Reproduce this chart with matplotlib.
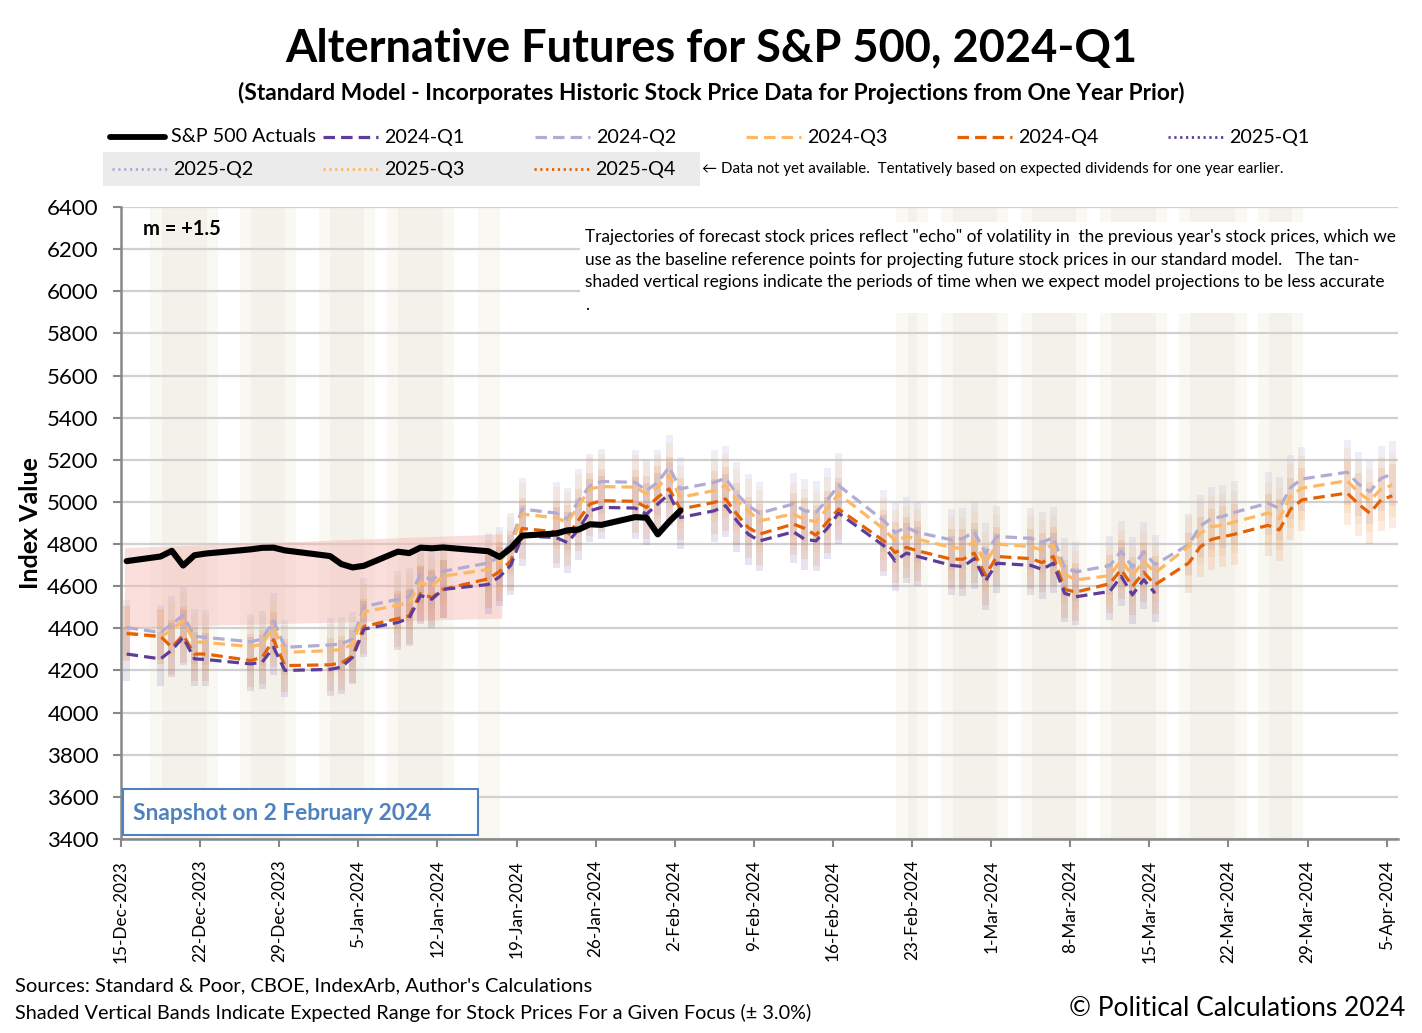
import numpy as np
import pandas as pd
import matplotlib
matplotlib.use('Agg')
from matplotlib import pyplot as plt
from matplotlib.lines import Line2D
from matplotlib.patches import Rectangle

plt.rcParams['font.family'] = ['Lato', 'DejaVu Sans']

# trading days covered by the chart
holidays = ['2023-12-25', '2024-01-01', '2024-01-15', '2024-02-19', '2024-03-29']
days = pd.bdate_range('2023-12-15', '2024-04-05')
days = days[~days.isin(pd.to_datetime(holidays))]

# S&P 500 closing values (15-Dec-2023 .. 2-Feb-2024)
sp500 = [4719, 4741, 4768, 4698, 4747, 4755, 4775, 4782, 4783, 4770,
         4743, 4705, 4689, 4697, 4764, 4757, 4783, 4780, 4784, 4766,
         4739, 4781, 4840, 4850, 4865, 4869, 4894, 4891, 4928, 4925,
         4846, 4906, 4959]

# projections by futures quarter
q1_2024 = [4278, 4255, 4297, 4357, 4255, 4252, 4231, 4240, 4310, 4200,
           4205, 4216, 4263, 4396, 4428, 4448, 4556, 4538, 4585, 4608,
           4645, 4700, 4839, 4831, 4807, 4870, 4958, 4974, 4971, 4942,
           4990, 5038, 4926, 4958, 4982, 4910, 4847, 4815, 4858, 4823,
           4815, 4875, 4947, 4792, 4720, 4757, 4741, 4699, 4693, 4731,
           4625, 4709, 4699, 4680, 4709, 4566, 4550, 4575, 4647, 4559,
           4631, 4567]
q2_2024 = [4404, 4380, 4420, 4462, 4362, 4357, 4336, 4350, 4436, 4310,
           4321, 4326, 4349, 4503, 4538, 4550, 4655, 4629, 4671, 4710,
           4740, 4805, 4966, 4947, 4918, 5006, 5077, 5097, 5093, 5054,
           5093, 5165, 5062, 5093, 5112, 5038, 4982, 4947, 4990, 4958,
           4951, 5010, 5078, 4911, 4855, 4879, 4855, 4820, 4827, 4858,
           4757, 4836, 4827, 4808, 4831, 4688, 4668, 4698, 4766, 4691,
           4762, 4703, 4798, 4886, 4921, 4931, 4950, 4994, 4969, 5069,
           5109, 5141, 5085, 5049, 5112, 5133]
q3_2024 = [4380, 4357, 4395, 4436, 4336, 4333, 4313, 4325, 4404, 4286,
           4294, 4300, 4326, 4478, 4510, 4522, 4616, 4600, 4648, 4679,
           4715, 4785, 4942, 4925, 4902, 4982, 5062, 5073, 5070, 5038,
           5070, 5125, 5022, 5054, 5077, 5006, 4958, 4910, 4943, 4916,
           4906, 4970, 5038, 4871, 4815, 4836, 4823, 4784, 4779, 4811,
           4709, 4800, 4788, 4772, 4796, 4657, 4630, 4650, 4723, 4650,
           4719, 4663, 4790, 4851, 4883, 4889, 4905, 4947, 4921, 5029,
           5065, 5101, 5045, 5006, 5061, 5080]
q4_2024 = [4375, 4362, 4310, 4368, 4278, 4278, 4247, 4263, 4346, 4223,
           4227, 4235, 4270, 4409, 4446, 4459, 4566, 4546, 4585, 4635,
           4670, 4720, 4874, 4858, 4839, 4915, 4990, 5006, 5003, 4974,
           5022, 5062, 4966, 4998, 5014, 4942, 4879, 4847, 4895, 4874,
           4842, 4905, 4966, 4815, 4760, 4784, 4768, 4728, 4728, 4757,
           4652, 4741, 4731, 4712, 4741, 4585, 4572, 4612, 4679, 4599,
           4666, 4607, 4711, 4787, 4822, 4835, 4846, 4889, 4867, 4966,
           5010, 5042, 4990, 4947, 5010, 5029]

# pink range (day offsets from 15-Dec-2023) and its low/high values
pink_days = [0.3, 33.7]
pink_lo = [4405, 4448]
pink_hi = [4783, 4848]

# tan "echo" volatility periods, day offsets from 15-Dec-2023
tan_bands = [(2.6, 8.6), (10.5, 15.5), (17.5, 22.5), (23.5, 29.5), (31.6, 33.5),
             (68.6, 71.4), (72.6, 78.5), (79.6, 85.5), (86.6, 92.6),
             (93.6, 99.6), (100.6, 104.6)]

band_pct = 0.03
c_q1, c_q2, c_q3, c_q4 = '#5e3c99', '#b2abd2', '#fdb863', '#e66101'

start = pd.Timestamp('2023-12-15')
half = pd.Timedelta(hours=12)
x_all = days + half


def px(x, y):
    return x / 1422, 1 - y / 1033


fig = plt.figure(figsize=(14.22, 10.33), dpi=100)
ax = fig.add_axes([121 / 1422, 1 - 839 / 1033, 1277 / 1422, 632 / 1033])

# background tan bands
for a, b in tan_bands:
    ax.axvspan(start + pd.Timedelta(days=a), start + pd.Timedelta(days=b),
               color='#f9f8f3', lw=0, zorder=0.1)
    if b - a > 2.5:
        ax.axvspan(start + pd.Timedelta(days=a + 1), start + pd.Timedelta(days=b - 1),
                   color='#f4f1ea', lw=0, zorder=0.15)

# pink range
pd_x = [start + pd.Timedelta(days=d) for d in pink_days]
ax.fill_between(pd_x, pink_lo, pink_hi, color='#f5b5ae', alpha=0.42, lw=0, zorder=1)

# expected range bars (+/- 3%)
series = [(q1_2024, c_q1, 0.14), (q2_2024, c_q2, 0.2),
          (q3_2024, c_q3, 0.14), (q4_2024, c_q4, 0.12)]
for vals, c, a in series:
    v = np.array(vals, dtype=float)
    xs = x_all[:len(v)]
    ax.bar(xs, 2 * band_pct * v, bottom=(1 - band_pct) * v, width=0.62,
           color=c, alpha=a, lw=0, zorder=1.5)

# projection lines
for vals, c in [(q2_2024, c_q2), (q3_2024, c_q3), (q4_2024, c_q4), (q1_2024, c_q1)]:
    ax.plot(x_all[:len(vals)], vals, color=c, lw=2.3, ls=(0, (3.6, 1.9)), zorder=3)

# actuals
ax.plot(x_all[:len(sp500)], sp500, color='black', lw=4.4, zorder=4,
        solid_capstyle='round', solid_joinstyle='round')

# axes formatting
ax.set_ylim(3400, 6400)
ax.set_yticks(np.arange(3400, 6401, 200))
ax.set_xlim(start, start + pd.Timedelta(days=113))
ticks = pd.date_range(start, periods=17, freq='7D')
ax.set_xticks(ticks)
ax.set_xticklabels([f'{t.day}-{t.strftime("%b-%Y")}' for t in ticks], rotation=90)
ax.tick_params(axis='x', labelsize=12.3, length=6, width=1.5, color='#888888', pad=9)
ax.tick_params(axis='y', labelsize=16, length=6, width=1.5, color='#888888', pad=10)
for s in ['top', 'right']:
    ax.spines[s].set_visible(False)
for s in ['left', 'bottom']:
    ax.spines[s].set_color('#888888')
    ax.spines[s].set_linewidth(1.8)
ax.set_axisbelow(True)
ax.yaxis.grid(True, color='#d0d0d0', lw=1.6)
ax.set_ylabel('Index Value', fontsize=18, fontweight='bold', labelpad=4)

ax.text(0.017, 0.965, 'm = +1.5', transform=ax.transAxes, fontsize=14.5,
        fontweight='bold', va='center', zorder=6)

# explanatory text box
fig.patches.append(Rectangle(px(580, 313), 825 / 1422, 91 / 1033,
                             transform=fig.transFigure, facecolor='white',
                             edgecolor='none', zorder=5))
fig.text(*px(585, 229),
         'Trajectories of forecast stock prices reflect "echo" of volatility in  the previous year\'s stock prices, which we\n'
         'use as the baseline reference points for projecting future stock prices in our standard model.   The tan-\n'
         'shaded vertical regions indicate the periods of time when we expect model projections to be less accurate\n'
         '.', fontsize=12.4, va='top', ha='left', linespacing=1.5, zorder=6)

# snapshot box
fig.patches.append(Rectangle(px(123, 835), 355 / 1422, 46 / 1033,
                             transform=fig.transFigure, facecolor='white',
                             edgecolor='#4f81bd', lw=1.5, zorder=5))
fig.text(*px(133, 813), 'Snapshot on 2 February 2024', fontsize=16.4, fontweight='bold',
         color='#4f81bd', va='center', ha='left', zorder=6)

# titles
fig.text(0.5, 1 - 48 / 1033, 'Alternative Futures for S&P 500, 2024-Q1',
         fontsize=32.5, fontweight='bold', ha='center', va='center')
fig.text(0.5, 1 - 93 / 1033,
         '(Standard Model - Incorporates Historic Stock Price Data for Projections from One Year Prior)',
         fontsize=16.4, fontweight='bold', ha='center', va='center')

# legend (drawn by hand to match the original layout)
fig.patches.append(Rectangle(px(103, 186), 597 / 1422, 34 / 1033,
                             transform=fig.transFigure, facecolor='#ebebeb',
                             edgecolor='none'))
legend_items = [
    (110, 137, 'S&P 500 Actuals', 'black', '-', 4.2),
    (323, 137, '2024-Q1', c_q1, (0, (3.6, 1.9)), 2.3),
    (535, 137, '2024-Q2', c_q2, (0, (3.6, 1.9)), 2.3),
    (746, 137, '2024-Q3', c_q3, (0, (3.6, 1.9)), 2.3),
    (957, 137, '2024-Q4', c_q4, (0, (3.6, 1.9)), 2.3),
    (1168, 137, '2025-Q1', c_q1, (0, (0.8, 1.3)), 2.0),
    (112, 169, '2025-Q2', c_q2, (0, (0.8, 1.3)), 2.0),
    (323, 169, '2025-Q3', c_q3, (0, (0.8, 1.3)), 2.0),
    (534, 169, '2025-Q4', c_q4, (0, (0.8, 1.3)), 2.0),
]
for x0, y0, lab, c, ls, lw in legend_items:
    (xa, ya), (xb, _) = px(x0, y0), px(x0 + 55, y0)
    fig.add_artist(Line2D([xa, xb], [ya, ya], color=c, ls=ls, lw=lw,
                          solid_capstyle='round', transform=fig.transFigure))
    fig.text(*px(x0 + 61, y0), lab, fontsize=14.2, va='center', ha='left')
fig.text(*px(702, 169),
         '\u2190 Data not yet available.  Tentatively based on expected dividends for one year earlier.',
         fontsize=10.9, va='center', ha='left')

# footer
fig.text(*px(15, 986), "Sources: Standard & Poor, CBOE, IndexArb, Author's Calculations",
         fontsize=14.5, va='center', ha='left')
fig.text(*px(15, 1013),
         'Shaded Vertical Bands Indicate Expected Range for Stock Prices For a Given Focus (\u00b1 3.0%)',
         fontsize=14.3, va='center', ha='left')
fig.text(*px(1405, 1008), '\u00a9 Political Calculations 2024', fontsize=19,
         va='center', ha='right')

fig.savefig('out.png', dpi=100)
